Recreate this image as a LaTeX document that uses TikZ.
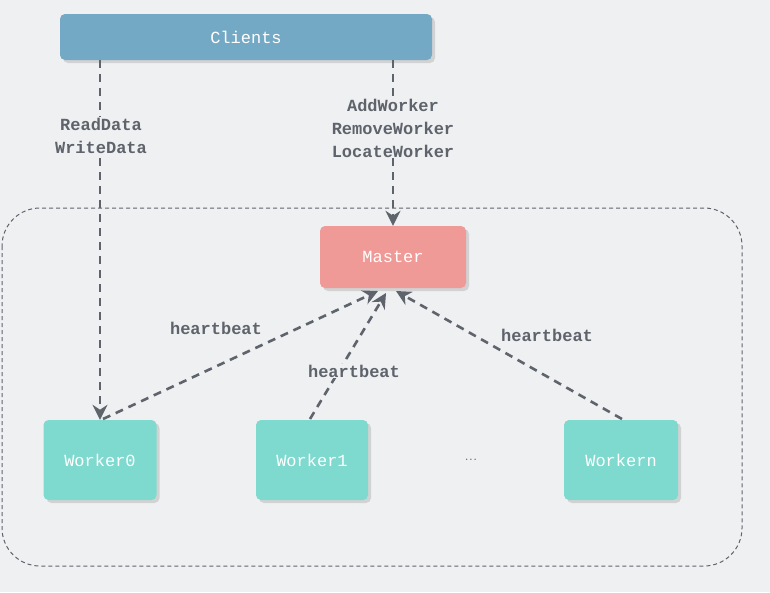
\documentclass[tikz,border=0pt]{standalone}
\usepackage{fontspec}
\setmonofont{Liberation Mono}
\usetikzlibrary{arrows.meta,shadows}
\definecolor{bgc}{HTML}{EFF0F2}
\definecolor{cliblue}{HTML}{74A9C5}
\definecolor{masred}{HTML}{F09A97}
\definecolor{wteal}{HTML}{7ED9CE}
\definecolor{lgray}{HTML}{5F636C}
\tikzset{
  box/.style={rounded corners=5pt, text=white, font=\ttfamily\fontsize{17}{20}\selectfont,
    drop shadow={shadow xshift=3pt, shadow yshift=-3pt, fill=black!25, opacity=0.6}},
  call/.style={lgray, line width=2.6pt, dash pattern=on 8pt off 6pt, -{Stealth[length=15pt,width=15pt]}},
  lbl/.style={font=\ttfamily\bfseries\fontsize{17}{23}\selectfont, text=lgray, fill=bgc, inner sep=1pt, align=center}
}
\begin{document}
\begin{tikzpicture}[x=1pt,y=-1pt]
  \fill[bgc] (0,0) rectangle (770,592);
  \useasboundingbox (0,0) rectangle (770,592);
  \draw[lgray, line width=1pt, dash pattern=on 4pt off 3pt, rounded corners=38pt] (2,208) rectangle (742,566);
  % nodes
  \node[box, fill=cliblue, minimum width=372pt, minimum height=46pt] (clients) at (246,37) {Clients};
  \node[box, fill=masred, minimum width=146pt, minimum height=62pt] (master) at (393,257) {Master};
  \node[box, fill=wteal, minimum width=113pt, minimum height=80pt] (w0) at (100,460) {Worker0};
  \node[box, fill=wteal, minimum width=112pt, minimum height=80pt] (w1) at (312,460) {Worker1};
  \node[box, fill=wteal, minimum width=114pt, minimum height=80pt] (wn) at (621,460) {Workern};
  \node[font=\fontsize{17}{20}\selectfont, text=lgray] (dots) at (471,460) {...};
  % connectors
  \coordinate (c0) at (100,60);
  \coordinate (c1) at (393,60);
  \draw[call] (c0) -- (w0.north -| c0);
  \draw[call] (c1) -- (master.north -| c1);
  \node[lbl] (rw) at (101,136) {ReadData\\WriteData};
  \node[lbl] (aw) at (393,128) {AddWorker\\RemoveWorker\\LocateWorker};
  \coordinate (m0) at (378,291);
  \coordinate (m1) at (386,293);
  \coordinate (m2) at (396,291);
  \coordinate (s0) at (103,419);
  \coordinate (s1) at (310,419);
  \coordinate (s2) at (622,419);
  \draw[call] (s0) -- (m0);
  \draw[call] (s1) -- (m1);
  \draw[call] (s2) -- (m2);
  \node[lbl, fill=none] (hb0) at (216,328) {heartbeat};
  \node[lbl] (hb1) at (354,371) {heartbeat};
  \node[lbl, fill=none] (hb2) at (547,335) {heartbeat};
\end{tikzpicture}
\end{document}
